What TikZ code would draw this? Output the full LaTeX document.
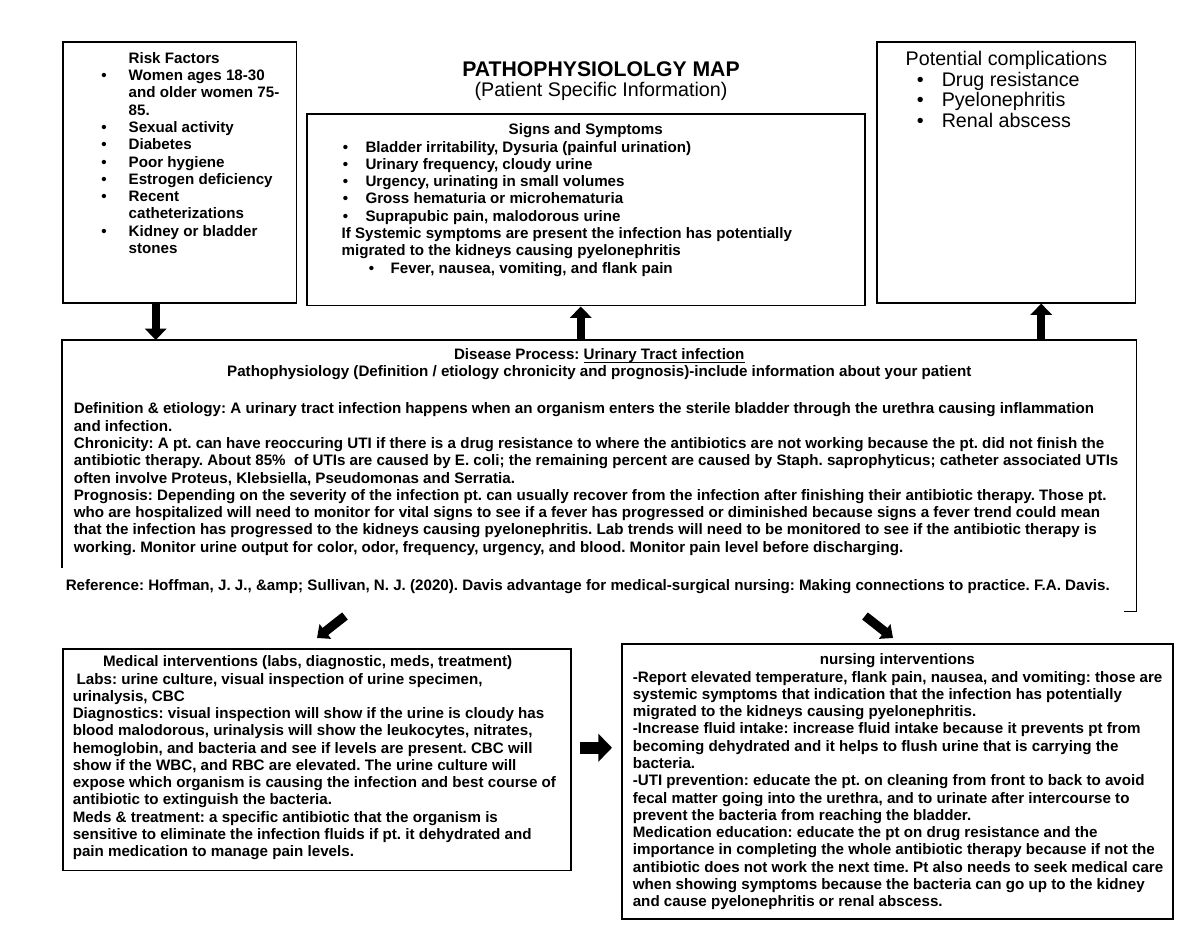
\documentclass[tikz,border=0pt]{standalone}
\usepackage{fontspec}
\setmainfont{Liberation Sans}
\usetikzlibrary{arrows.meta}

\newcommand{\bl}[2]{\hspace*{#1}\makebox[#2][l]{\textbullet}}
\newcommand{\oneline}[1]{\mbox{#1}}
\frenchspacing

\begin{document}
\begin{tikzpicture}[x=0.66pt,y=-0.66pt]
%\draw[help lines] (0,0) grid[step=100] (1200,927);
\tikzstyle{box}=[rectangle,draw,line width=1pt,inner sep=0pt,anchor=north west,font=\fontsize{10}{11.4}\selectfont\bfseries]
\tikzstyle{fat}=[line width=5pt,-{Triangle[width=14pt,length=7.5pt]}]
\tikzstyle{wide}=[line width=8pt,-{Triangle[width=18pt,length=9pt]}]
\tikzstyle{diag}=[line width=6pt,-{Triangle[width=12pt,length=7pt]}]

\path[fill=white] (0,0) rectangle (1200,927);

\node[anchor=base,font=\fontsize{14}{16}\selectfont\bfseries] (title) at (601,76) {PATHOPHYSIOLOLGY MAP};
\node[anchor=base,font=\fontsize{13}{15}\selectfont] (subtitle) at (601,96) {(Patient Specific Information)};

\node[box] (risk) at (62,41) {\parbox[c][172.3pt][t]{154.4pt}{\raggedright
\hspace*{43.5pt}\rule{0pt}{14.3pt}Risk Factors\\
\bl{25.5pt}{18pt}Women ages 18-30\\
\hspace*{43.5pt}and older women 75-\\
\hspace*{43.5pt}85.\\
\bl{25.5pt}{18pt}Sexual activity\\
\bl{25.5pt}{18pt}Diabetes\\
\bl{25.5pt}{18pt}Poor hygiene\\
\bl{25.5pt}{18pt}Estrogen deficiency\\
\bl{25.5pt}{18pt}Recent\\
\hspace*{43.5pt}catheterizations\\
\bl{25.5pt}{18pt}Kidney or bladder\\
\hspace*{43.5pt}stones}};

\node[box] (signs) at (306,113) {\parbox[c][126.7pt][t]{368.3pt}{
\centering\rule{0pt}{13.9pt}Signs and Symptoms\par
\raggedright
\bl{23.8pt}{15pt}Bladder irritability, Dysuria (painful urination)\\
\bl{23.8pt}{15pt}Urinary frequency, cloudy urine\\
\bl{23.8pt}{15pt}Urgency, urinating in small volumes\\
\bl{23.8pt}{15pt}Gross hematuria or microhematuria\\
\bl{23.8pt}{15pt}Suprapubic pain, malodorous urine\\
\hspace*{23pt}\oneline{If Systemic symptoms are present the infection has potentially}\\
\hspace*{23pt}migrated to the kidneys causing pyelonephritis\\
\bl{41pt}{14.4pt}Fever, nausea, vomiting, and flank pain}};

\node[box,font=\fontsize{13}{13.7}\selectfont] (comp) at (876,41) {\parbox[c][172.3pt][t]{170.9pt}{\raggedright
\hspace*{19.1pt}\rule{0pt}{15.5pt}Potential complications\\
\bl{26.4pt}{16.5pt}Drug resistance\\
\bl{26.4pt}{16.5pt}Pyelonephritis\\
\bl{26.4pt}{16.5pt}Renal abscess}};

\node[box,draw=none] (disease) at (62,340) {\parbox[c][178.2pt][t]{708.2pt}{
\centering\rule{0pt}{12.5pt}Disease Process: \underline{\smash{Urinary Tract infection}}\\
Pathophysiology (Definition / etiology chronicity and prognosis)-include information about your patient\par
\vspace{13pt}
\raggedright
\hspace*{7.3pt}\oneline{Definition \& etiology: A urinary tract infection happens when an organism enters the sterile bladder through the urethra causing inflammation}\\
\hspace*{7.3pt}and infection.\\
\hspace*{7.3pt}\oneline{Chronicity: A pt. can have reoccuring UTI if there is a drug resistance to where the antibiotics are not working because the pt. did not finish the}\\
\hspace*{7.3pt}\oneline{antibiotic therapy. About 85\%\ \ of UTIs are caused by E. coli; the remaining percent are caused by Staph. saprophyticus; catheter associated UTIs}\\
\hspace*{7.3pt}often involve Proteus, Klebsiella, Pseudomonas and Serratia.\\
\hspace*{7.3pt}\oneline{Prognosis: Depending on the severity of the infection pt. can usually recover from the infection after finishing their antibiotic therapy. Those pt.}\\
\hspace*{7.3pt}\oneline{who are hospitalized will need to monitor for vital signs to see if a fever has progressed or diminished because signs a fever trend could mean}\\
\hspace*{7.3pt}\oneline{that the infection has progressed to the kidneys causing pyelonephritis. Lab trends will need to be monitored to see if the antibiotic therapy is}\\
\hspace*{7.3pt}\oneline{working. Monitor urine output for color, odor, frequency, urgency, and blood. Monitor pain level before discharging.}\\[13.6pt]
\hspace*{2pt}\oneline{Reference: Hoffman, J. J., \&amp; Sullivan, N. J. (2020). Davis advantage for medical-surgical nursing: Making connections to practice. F.A. Davis.}}};

\draw[line width=1pt] (disease.north west) ++(0,228) -- (disease.north west) -- (disease.north east) -- (disease.south east) -- ++(-13,0);

\node[box] (medical) at (62,648) {\parbox[c][146.5pt][t]{335.3pt}{
\centering\rule{0pt}{11.9pt}\hspace*{-12pt}Medical interventions (labs, diagnostic, meds, treatment)\par
\raggedright
\hspace*{9.2pt}\oneline{Labs: urine culture, visual inspection of urine specimen,}\\
\hspace*{6.6pt}urinalysis, CBC\\
\hspace*{6.6pt}\oneline{Diagnostics: visual inspection will show if the urine is cloudy has}\\
\hspace*{6.6pt}\oneline{blood malodorous, urinalysis will show the leukocytes, nitrates,}\\
\hspace*{6.6pt}\oneline{hemoglobin, and bacteria and see if levels are present. CBC will}\\
\hspace*{6.6pt}\oneline{show if the WBC, and RBC are elevated. The urine culture will}\\
\hspace*{6.6pt}\oneline{expose which organism is causing the infection and best course of}\\
\hspace*{6.6pt}antibiotic to extinguish the bacteria.\\
\hspace*{6.6pt}\oneline{Meds \& treatment: a specific antibiotic that the organism is}\\
\hspace*{6.6pt}\oneline{sensitive to eliminate the infection fluids if pt. it dehydrated and}\\
\hspace*{6.6pt}pain medication to manage pain levels.}};

\node[box] (nursing) at (621,643) {\parbox[c][181.5pt][t]{363.7pt}{
\centering\rule{0pt}{13.9pt}nursing interventions\par
\raggedright
\hspace*{7.3pt}\oneline{-Report elevated temperature, flank pain, nausea, and vomiting: those are}\\
\hspace*{7.3pt}\oneline{systemic symptoms that indication that the infection has potentially}\\
\hspace*{7.3pt}migrated to the kidneys causing pyelonephritis.\\
\hspace*{7.3pt}\oneline{-Increase fluid intake: increase fluid intake because it prevents pt from}\\
\hspace*{7.3pt}\oneline{becoming dehydrated and it helps to flush urine that is carrying the}\\
\hspace*{7.3pt}bacteria.\\
\hspace*{7.3pt}\oneline{-UTI prevention: educate the pt. on cleaning from front to back to avoid}\\
\hspace*{7.3pt}\oneline{fecal matter going into the urethra, and to urinate after intercourse to}\\
\hspace*{7.3pt}prevent the bacteria from reaching the bladder.\\
\hspace*{7.3pt}\oneline{Medication education: educate the pt on drug resistance and the}\\
\hspace*{7.3pt}\oneline{importance in completing the whole antibiotic therapy because if not the}\\
\hspace*{7.3pt}\oneline{antibiotic does not work the next time. Pt also needs to seek medical care}\\
\hspace*{7.3pt}\oneline{when showing symptoms because the bacteria can go up to the kidney}\\
\hspace*{7.3pt}and cause pyelonephritis or renal abscess.}};

\coordinate (medtop) at (345,616);
\coordinate (medtip) at (317,638);
\coordinate (nurtop) at (865,616);
\coordinate (nurtip) at (893,638);

\draw[fat] ([shift={(-24,0)}]risk.south) -- ([shift={(-24,0)}]risk.south |- disease.north);
\draw[fat] ([shift={(-5,0)}]signs.south |- disease.north) -- ([shift={(-5,0)}]signs.south);
\draw[fat] ([shift={(35,0)}]comp.south |- disease.north) -- ([shift={(35,0)}]comp.south);
\draw[diag] (medtop) -- (medtip);
\draw[diag] (nurtop) -- (nurtip);
\draw[wide] ([shift={(8,-12)}]medical.east) -- ([shift={(-9,-12)}]medical.east -| nursing.west);
\end{tikzpicture}
\end{document}
